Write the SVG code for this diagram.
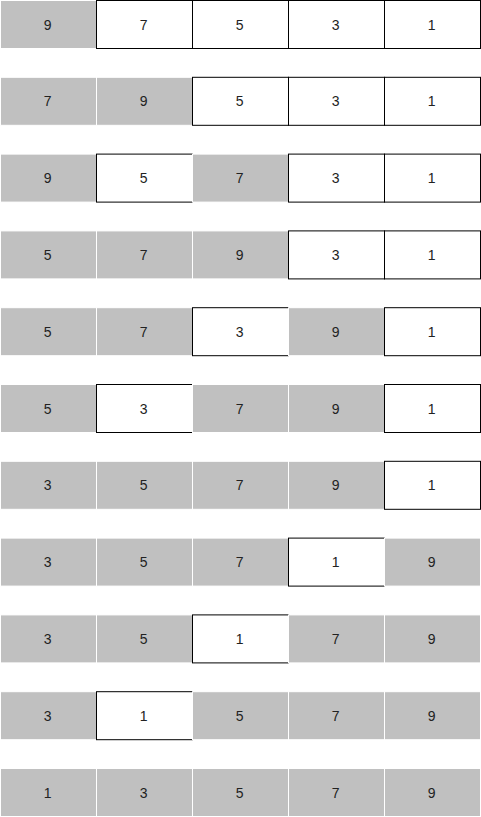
<svg xmlns="http://www.w3.org/2000/svg" width="481" height="817" viewBox="0 0 481 817">
<style>
.g{fill:#c0c0c0;stroke:#ffffff;stroke-width:1}
.w{fill:#ffffff;stroke:#000000;stroke-width:1}
text{font-family:"Liberation Sans",Arial,sans-serif;font-size:14px;fill:#222222;text-anchor:middle}
</style>
<rect x="0" y="0" width="481" height="817" fill="#ffffff"/>
<g id="row1" transform="translate(0,0.5)">
<rect class="g" x="0.5" y="0" width="96" height="48"/><text x="47.6" y="29">9</text>
<rect class="w" x="96.5" y="0" width="96" height="48"/><text x="143.6" y="29">7</text>
<rect class="w" x="192.5" y="0" width="96" height="48"/><text x="239.6" y="29">5</text>
<rect class="w" x="288.5" y="0" width="96" height="48"/><text x="335.6" y="29">3</text>
<rect class="w" x="384.5" y="0" width="96" height="48"/><text x="431.6" y="29">1</text>
</g>
<g id="row2" transform="translate(0,77.3)">
<rect class="g" x="0.5" y="0" width="96" height="48"/><text x="47.6" y="29">7</text>
<rect class="g" x="96.5" y="0" width="96" height="48"/><text x="143.6" y="29">9</text>
<rect class="w" x="192.5" y="0" width="96" height="48"/><text x="239.6" y="29">5</text>
<rect class="w" x="288.5" y="0" width="96" height="48"/><text x="335.6" y="29">3</text>
<rect class="w" x="384.5" y="0" width="96" height="48"/><text x="431.6" y="29">1</text>
</g>
<g id="row3" transform="translate(0,154.1)">
<rect class="g" x="0.5" y="0" width="96" height="48"/><text x="47.6" y="29">9</text>
<rect class="w" x="96.5" y="0" width="96" height="48"/><text x="143.6" y="29">5</text>
<rect class="g" x="192.5" y="0" width="96" height="48"/><text x="239.6" y="29">7</text>
<rect class="w" x="288.5" y="0" width="96" height="48"/><text x="335.6" y="29">3</text>
<rect class="w" x="384.5" y="0" width="96" height="48"/><text x="431.6" y="29">1</text>
</g>
<g id="row4" transform="translate(0,230.9)">
<rect class="g" x="0.5" y="0" width="96" height="48"/><text x="47.6" y="29">5</text>
<rect class="g" x="96.5" y="0" width="96" height="48"/><text x="143.6" y="29">7</text>
<rect class="g" x="192.5" y="0" width="96" height="48"/><text x="239.6" y="29">9</text>
<rect class="w" x="288.5" y="0" width="96" height="48"/><text x="335.6" y="29">3</text>
<rect class="w" x="384.5" y="0" width="96" height="48"/><text x="431.6" y="29">1</text>
</g>
<g id="row5" transform="translate(0,307.7)">
<rect class="g" x="0.5" y="0" width="96" height="48"/><text x="47.6" y="29">5</text>
<rect class="g" x="96.5" y="0" width="96" height="48"/><text x="143.6" y="29">7</text>
<rect class="w" x="192.5" y="0" width="96" height="48"/><text x="239.6" y="29">3</text>
<rect class="g" x="288.5" y="0" width="96" height="48"/><text x="335.6" y="29">9</text>
<rect class="w" x="384.5" y="0" width="96" height="48"/><text x="431.6" y="29">1</text>
</g>
<g id="row6" transform="translate(0,384.5)">
<rect class="g" x="0.5" y="0" width="96" height="48"/><text x="47.6" y="29">5</text>
<rect class="w" x="96.5" y="0" width="96" height="48"/><text x="143.6" y="29">3</text>
<rect class="g" x="192.5" y="0" width="96" height="48"/><text x="239.6" y="29">7</text>
<rect class="g" x="288.5" y="0" width="96" height="48"/><text x="335.6" y="29">9</text>
<rect class="w" x="384.5" y="0" width="96" height="48"/><text x="431.6" y="29">1</text>
</g>
<g id="row7" transform="translate(0,461.3)">
<rect class="g" x="0.5" y="0" width="96" height="48"/><text x="47.6" y="29">3</text>
<rect class="g" x="96.5" y="0" width="96" height="48"/><text x="143.6" y="29">5</text>
<rect class="g" x="192.5" y="0" width="96" height="48"/><text x="239.6" y="29">7</text>
<rect class="g" x="288.5" y="0" width="96" height="48"/><text x="335.6" y="29">9</text>
<rect class="w" x="384.5" y="0" width="96" height="48"/><text x="431.6" y="29">1</text>
</g>
<g id="row8" transform="translate(0,538.1)">
<rect class="g" x="0.5" y="0" width="96" height="48"/><text x="47.6" y="29">3</text>
<rect class="g" x="96.5" y="0" width="96" height="48"/><text x="143.6" y="29">5</text>
<rect class="g" x="192.5" y="0" width="96" height="48"/><text x="239.6" y="29">7</text>
<rect class="w" x="288.5" y="0" width="96" height="48"/><text x="335.6" y="29">1</text>
<rect class="g" x="384.5" y="0" width="96" height="48"/><text x="431.6" y="29">9</text>
</g>
<g id="row9" transform="translate(0,614.9)">
<rect class="g" x="0.5" y="0" width="96" height="48"/><text x="47.6" y="29">3</text>
<rect class="g" x="96.5" y="0" width="96" height="48"/><text x="143.6" y="29">5</text>
<rect class="w" x="192.5" y="0" width="96" height="48"/><text x="239.6" y="29">1</text>
<rect class="g" x="288.5" y="0" width="96" height="48"/><text x="335.6" y="29">7</text>
<rect class="g" x="384.5" y="0" width="96" height="48"/><text x="431.6" y="29">9</text>
</g>
<g id="row10" transform="translate(0,691.7)">
<rect class="g" x="0.5" y="0" width="96" height="48"/><text x="47.6" y="29">3</text>
<rect class="w" x="96.5" y="0" width="96" height="48"/><text x="143.6" y="29">1</text>
<rect class="g" x="192.5" y="0" width="96" height="48"/><text x="239.6" y="29">5</text>
<rect class="g" x="288.5" y="0" width="96" height="48"/><text x="335.6" y="29">7</text>
<rect class="g" x="384.5" y="0" width="96" height="48"/><text x="431.6" y="29">9</text>
</g>
<g id="row11" transform="translate(0,768.5)">
<rect class="g" x="0.5" y="0" width="96" height="48"/><text x="47.6" y="29">1</text>
<rect class="g" x="96.5" y="0" width="96" height="48"/><text x="143.6" y="29">3</text>
<rect class="g" x="192.5" y="0" width="96" height="48"/><text x="239.6" y="29">5</text>
<rect class="g" x="288.5" y="0" width="96" height="48"/><text x="335.6" y="29">7</text>
<rect class="g" x="384.5" y="0" width="96" height="48"/><text x="431.6" y="29">9</text>
</g>
<g id="connectors"></g>
</svg>
